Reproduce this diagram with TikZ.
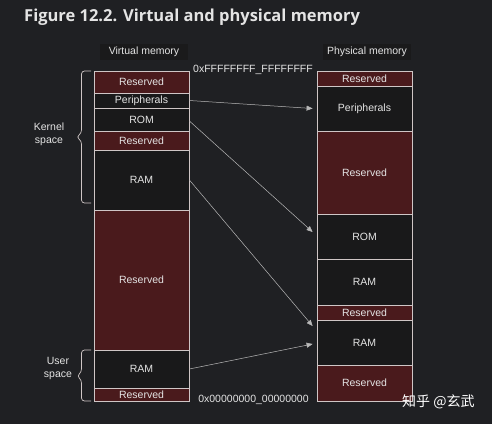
\documentclass[tikz,border=0pt]{standalone}
\usepackage{fontspec}
\setmainfont{Liberation Sans}
\newfontfamily\titlefont{Open Sans}
\newfontfamily\cjkfont{Noto Sans CJK SC}
\usetikzlibrary{arrows.meta}
\definecolor{bgc}{HTML}{1F2023}
\definecolor{resc}{HTML}{4A1A1C}
\definecolor{darkc}{HTML}{19191A}
\definecolor{edgec}{HTML}{CFC6C6}
\definecolor{txtc}{HTML}{E4E4E4}
\definecolor{linec}{HTML}{B8B8B8}
\definecolor{hdrc}{HTML}{1A1A1B}
\tikzset{
  blk/.style={draw=edgec, line width=0.8pt, inner sep=0pt, minimum width=95pt, text=txtc, font=\fontsize{10.5}{12}\selectfont},
  resblk/.style={blk, fill=resc},
  darkblk/.style={blk, fill=darkc},
  lbl/.style={text=txtc, font=\fontsize{10.5}{12}\selectfont, inner sep=0pt},
  hdr/.style={lbl, fill=hdrc, minimum width=88pt, minimum height=16pt},
  conn/.style={draw=linec, line width=0.5pt, -{Triangle[length=6pt,width=5pt]}},
  brc/.style={draw=edgec, line width=0.7pt, rounded corners=3pt}
}
\begin{document}
\begin{tikzpicture}[x=1pt,y=-1pt]
\fill[bgc] (0,0) rectangle (492,424);
\useasboundingbox (0,0) rectangle (492,424);

\node[anchor=west, text=txtc, inner sep=0pt, font=\titlefont\bfseries\fontsize{16.5}{18}\selectfont] (title) at (24,17.5) {Figure 12.2. Virtual and physical memory};

\node[hdr] (vh) at (144,52) {Virtual memory};
\node[hdr] (ph) at (367,52) {Physical memory};

% virtual memory
\node[resblk, minimum height=22pt] (v1) at (141.5,82) {Reserved};
\node[darkblk, minimum height=15pt] (v2) at (141.5,100.5) {Peripherals};
\node[darkblk, minimum height=23pt] (v3) at (141.5,119.5) {ROM};
\node[resblk, minimum height=19pt] (v4) at (141.5,140.5) {Reserved};
\node[darkblk, minimum height=60pt] (v5) at (141.5,180) {RAM};
\node[resblk, minimum height=140pt] (v6) at (141.5,280) {Reserved};
\node[darkblk, minimum height=38pt] (v7) at (141.5,369) {RAM};
\node[resblk, minimum height=13pt] (v8) at (141.5,394.5) {Reserved};

% physical memory
\node[resblk, minimum height=15pt] (p1) at (364.5,78.5) {Reserved};
\node[darkblk, minimum height=45pt] (p2) at (364.5,108.5) {Peripherals};
\node[resblk, minimum height=83pt] (p3) at (364.5,172.5) {Reserved};
\node[darkblk, minimum height=45pt] (p4) at (364.5,236.5) {ROM};
\node[darkblk, minimum height=46pt] (p5) at (364.5,282) {RAM};
\node[resblk, minimum height=15pt] (p6) at (364.5,312.5) {Reserved};
\node[darkblk, minimum height=45pt] (p7) at (364.5,342.5) {RAM};
\node[resblk, minimum height=36pt] (p8) at (364.5,383) {Reserved};

% addresses
\node[lbl] (top) at (253,70) {0xFFFFFFFF\_FFFFFFFF};
\node[lbl] (bot) at (253.5,400) {0x00000000\_00000000};

% braces
\coordinate (kb1) at (91,71);
\coordinate (kb2) at (91,203);
\draw[brc] (kb1) -- (81.5,71) -- (81.5,133) -- (76.5,137) -- (81.5,141) -- (81.5,203) -- (kb2);
\node[lbl, align=center] (ks) at (49,134.5) {Kernel\\[1pt]space};
\coordinate (ub1) at (91,350);
\coordinate (ub2) at (91,401);
\draw[brc] (ub1) -- (81.5,350) -- (81.5,372) -- (77,376) -- (81.5,380) -- (81.5,401) -- (ub2);
\node[lbl, align=center] (us) at (58,368.5) {User\\[1pt]space};

% connectors
\draw[conn] (v2.east) -- ([xshift=-4pt]p2.west);
\draw[conn] ([yshift=-1.5pt]v3.east) -- ([xshift=-4pt,yshift=4.5pt]p4.west);
\draw[conn] (v5.east) -- ([xshift=-4pt,yshift=16.5pt]p7.west);
\draw[conn] (v7.east) -- ([xshift=-4pt,yshift=-1.5pt]p7.west);

% watermark
\node[anchor=west, inner sep=0pt, text=white, font=\cjkfont\fontsize{14}{16}\selectfont] (wm) at (402,402) {知乎 @玄武};
\end{tikzpicture}
\end{document}
